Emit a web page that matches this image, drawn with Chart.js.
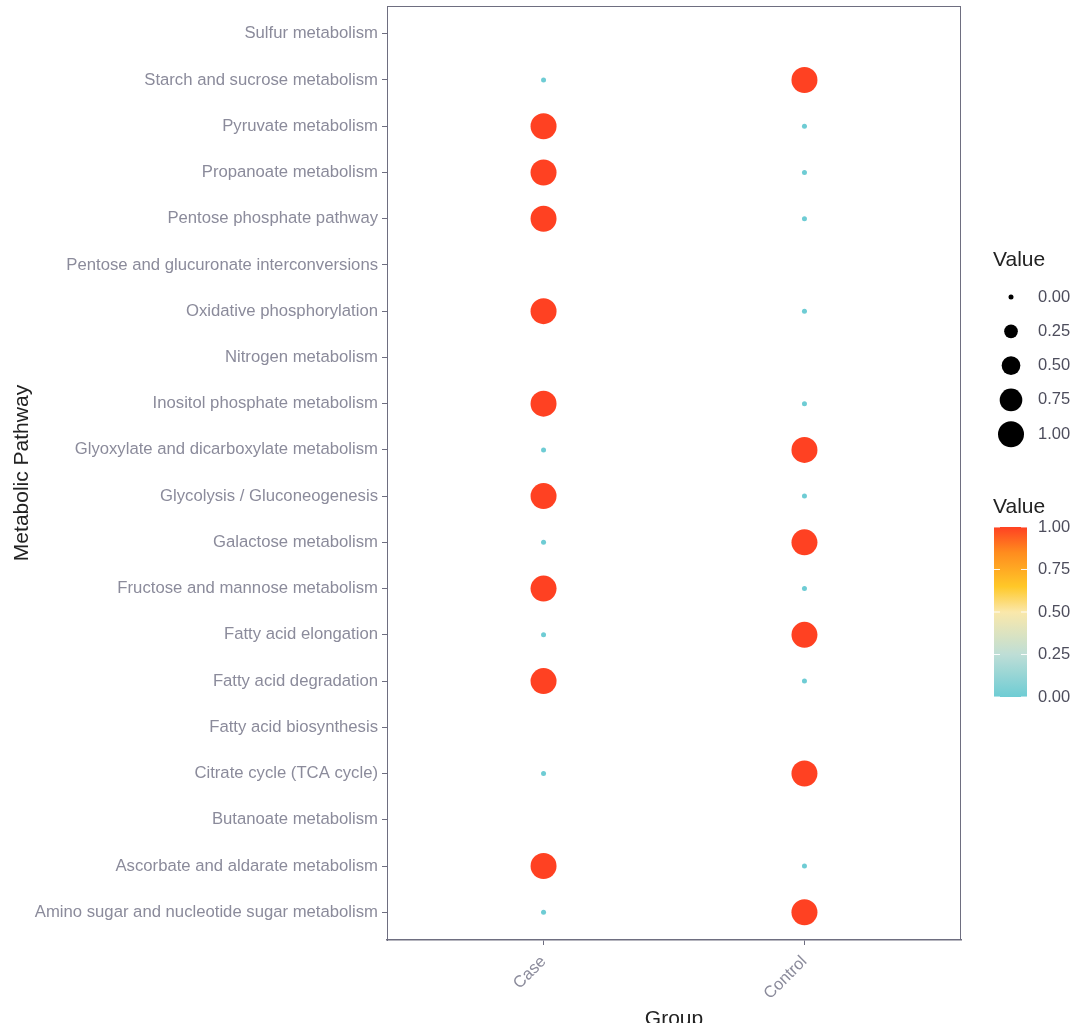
<!DOCTYPE html>
<html>
<head>
<meta charset="utf-8">
<script src="https://cdn.jsdelivr.net/npm/chart.js@4"></script>
<style>
  html, body { margin: 0; padding: 0; background: #fff; }
  #wrap { position: relative; width: 1080px; height: 1023px; }
</style>
</head>
<body>
<div id="wrap"><canvas id="dotChart" width="1080" height="1023"></canvas></div>
<script>
/* Data (top to bottom as shown) */
var pathways = [
  'Sulfur metabolism',
  'Starch and sucrose metabolism',
  'Pyruvate metabolism',
  'Propanoate metabolism',
  'Pentose phosphate pathway',
  'Pentose and glucuronate interconversions',
  'Oxidative phosphorylation',
  'Nitrogen metabolism',
  'Inositol phosphate metabolism',
  'Glyoxylate and dicarboxylate metabolism',
  'Glycolysis / Gluconeogenesis',
  'Galactose metabolism',
  'Fructose and mannose metabolism',
  'Fatty acid elongation',
  'Fatty acid degradation',
  'Fatty acid biosynthesis',
  'Citrate cycle (TCA cycle)',
  'Butanoate metabolism',
  'Ascorbate and aldarate metabolism',
  'Amino sugar and nucleotide sugar metabolism'
];
var groups = ['Case', 'Control'];
var caseValues    = [null, 0, 1, 1, 1, null, 1, null, 1, 0, 1, 0, 1, 0, 1, null, 0, null, 1, 0];
var controlValues = [null, 1, 0, 0, 0, null, 0, null, 0, 1, 0, 1, 0, 1, 0, null, 1, null, 0, 1];
var legendTicks = [0, 0.25, 0.5, 0.75, 1];

var FONT = "'Liberation Sans', Arial, sans-serif";
var TICK_COLOR = '#8b8b9b';
var FRAME_COLOR = '#6e6e80';

/* colour gradient used for Value */
var stops = [
  [0.00, [110, 204, 212]],
  [0.25, [190, 222, 214]],
  [0.50, [250, 232, 170]],
  [0.65, [255, 200, 40]],
  [0.85, [255, 140, 30]],
  [1.00, [255, 65, 34]]
];
function colorFor(v) {
  for (var i = 1; i < stops.length; i++) {
    if (v <= stops[i][0]) {
      var a = stops[i - 1], b = stops[i];
      var t = (v - a[0]) / (b[0] - a[0]);
      var c = a[1].map(function (x, k) { return Math.round(x + (b[1][k] - x) * t); });
      return 'rgb(' + c.join(',') + ')';
    }
  }
  return 'rgb(' + stops[stops.length - 1][1].join(',') + ')';
}
function radiusFor(v) {
  return Math.sqrt(2.5 * 2.5 + (13 * 13 - 2.5 * 2.5) * v);
}

function buildPoints(values, gx) {
  var pts = [];
  values.forEach(function (v, i) {
    if (v !== null) pts.push({ x: gx, y: i + 1, v: v });
  });
  return pts;
}

var legendPlugin = {
  id: 'valueLegends',
  afterDraw: function (chart) {
    var ctx = chart.ctx;
    var a = chart.chartArea;
    ctx.save();
    // panel border
    ctx.strokeStyle = FRAME_COLOR;
    ctx.lineWidth = 1;
    ctx.strokeRect(a.left + 0.5, a.top + 0.5, a.right - a.left - 1, a.bottom - a.top - 1);

    // size legend
    ctx.fillStyle = '#222';
    ctx.font = '21px ' + FONT;
    ctx.textAlign = 'left';
    ctx.textBaseline = 'middle';
    ctx.fillText('Value', 993, 260);
    ctx.font = '16.5px ' + FONT;
    legendTicks.forEach(function (t, i) {
      var y = 297 + i * 34.3;
      ctx.fillStyle = '#000';
      ctx.beginPath();
      ctx.arc(1011, y, radiusFor(t), 0, Math.PI * 2);
      ctx.fill();
      ctx.fillStyle = '#4d4d5c';
      ctx.fillText(t.toFixed(2), 1038, y);
    });

    // colour bar legend
    ctx.fillStyle = '#222';
    ctx.font = '21px ' + FONT;
    ctx.fillText('Value', 993, 507);
    var top = 527, bot = 697, x0 = 994, w = 33;
    var grad = ctx.createLinearGradient(0, bot, 0, top);
    for (var s = 0; s <= 20; s++) grad.addColorStop(s / 20, colorFor(s / 20));
    ctx.fillStyle = grad;
    ctx.fillRect(x0, top, w, bot - top);
    ctx.font = '16.5px ' + FONT;
    legendTicks.forEach(function (t) {
      var y = bot - (bot - top) * t;
      ctx.strokeStyle = 'rgba(255,255,255,0.9)';
      ctx.beginPath();
      ctx.moveTo(x0, y); ctx.lineTo(x0 + 6, y);
      ctx.moveTo(x0 + w - 6, y); ctx.lineTo(x0 + w, y);
      ctx.stroke();
      ctx.fillStyle = '#4d4d5c';
      ctx.fillText(t.toFixed(2), 1038, y);
    });
    ctx.restore();
  }
};

var ctx = document.getElementById('dotChart').getContext('2d');
new Chart(ctx, {
  type: 'scatter',
  data: {
    datasets: [
      { label: 'Case', data: buildPoints(caseValues, 1) },
      { label: 'Control', data: buildPoints(controlValues, 2) }
    ]
  },
  options: {
    responsive: false,
    animation: false,
    layout: { autoPadding: false, padding: { top: 6, right: 119, left: 0, bottom: 0 } },
    elements: {
      point: {
        radius: function (c) { return c.raw ? radiusFor(c.raw.v) : 0; },
        backgroundColor: function (c) { return c.raw ? colorFor(c.raw.v) : '#000'; },
        borderWidth: 0,
        hoverRadius: function (c) { return c.raw ? radiusFor(c.raw.v) : 0; }
      }
    },
    plugins: {
      legend: { display: false },
      tooltip: { enabled: false }
    },
    scales: {
      x: {
        type: 'linear',
        min: 0.4,
        max: 2.6,
        afterBuildTicks: function (s) { s.ticks = groups.map(function (g, i) { return { value: i + 1 }; }); },
        afterFit: function (s) { s.height = 83; s.paddingLeft = 0; s.paddingRight = 0; },
        ticks: {
          callback: function (v) { return groups[v - 1]; },
          maxRotation: 45,
          minRotation: 45,
          color: TICK_COLOR,
          font: { family: FONT, size: 16.5 },
          padding: 7
        },
        grid: { drawOnChartArea: false, drawTicks: true, tickLength: 5, tickColor: FRAME_COLOR },
        border: { display: true, color: FRAME_COLOR, width: 1.5 },
        title: { display: true, text: 'Group', color: '#222', font: { family: FONT, size: 21 }, padding: { top: 0, bottom: -9 } }
      },
      y: {
        type: 'linear',
        reverse: true,
        min: 0.4,
        max: 20.6,
        afterBuildTicks: function (s) { s.ticks = pathways.map(function (p, i) { return { value: i + 1 }; }); },
        afterFit: function (s) { s.width = 387; s.paddingTop = 0; s.paddingBottom = 0; },
        ticks: {
          callback: function (v) { return pathways[v - 1]; },
          color: TICK_COLOR,
          font: { family: FONT, size: 16.7 },
          padding: 4
        },
        grid: { drawOnChartArea: false, drawTicks: true, tickLength: 5, tickColor: FRAME_COLOR },
        border: { display: true, color: FRAME_COLOR },
        title: { display: true, text: 'Metabolic Pathway', color: '#222', font: { family: FONT, size: 21 }, padding: { top: 10, bottom: 0 } }
      }
    }
  },
  plugins: [legendPlugin]
});
</script>
</body>
</html>
